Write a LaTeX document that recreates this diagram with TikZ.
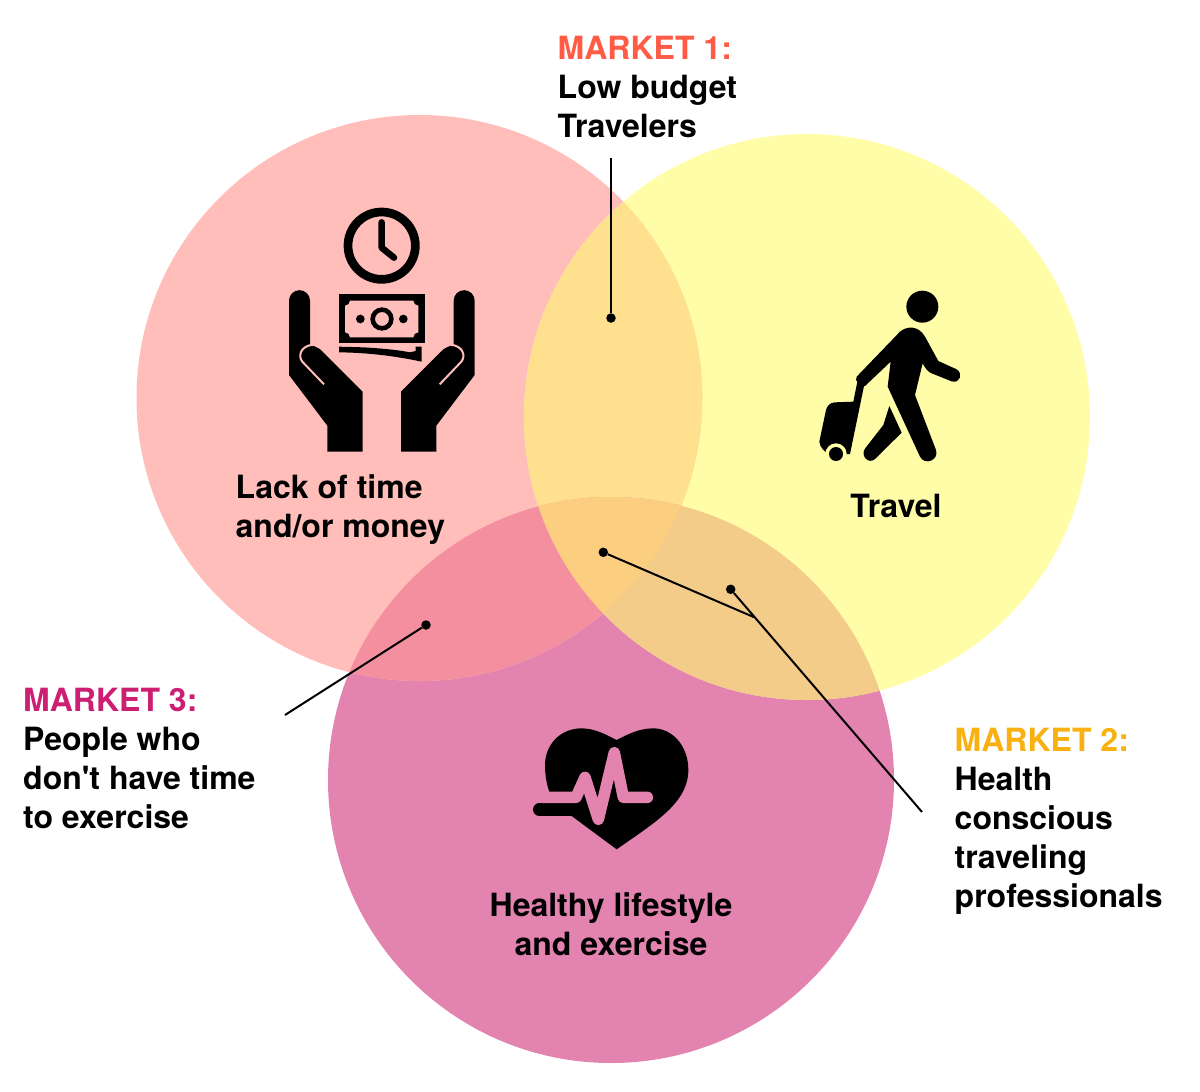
\documentclass[tikz,border=0pt]{standalone}
\usepackage{fontspec}
\setmainfont{TeX Gyre Heros}
\usetikzlibrary{positioning}

\definecolor{redzone}{HTML}{FFBEBA}
\definecolor{yellowzone}{HTML}{FFFDA8}
\definecolor{pinkzone}{HTML}{E383B0}
\definecolor{redyellow}{HTML}{FFE08F}
\definecolor{redpink}{HTML}{F48F9F}
\definecolor{yellowpink}{HTML}{F3CC8A}
\definecolor{allzones}{HTML}{FBCE80}
\definecolor{marketone}{HTML}{FF5B45}
\definecolor{markettwo}{HTML}{F9B111}
\definecolor{marketthree}{HTML}{CC1F72}

\newcommand{\redpath}{(419.5,398) circle (283)}
\newcommand{\yellowpath}{(807,417) circle (283)}
\newcommand{\pinkpath}{(611,780) circle (283)}

\begin{document}
\begin{tikzpicture}[x=1pt, y=-1pt,
    zone/.style={circle, inner sep=0pt, minimum size=566pt},
    dot/.style={circle, fill=black, inner sep=0pt, minimum size=9.5pt},
    leader/.style={draw=black, line width=2pt},
    blurb/.style={font=\fontsize{32}{39}\selectfont\bfseries, inner sep=0pt, align=left, anchor=north west},
    caption/.style={font=\fontsize{32}{39}\selectfont\bfseries, inner sep=0pt, align=center, anchor=north}]
  \useasboundingbox (0,0) rectangle (1200,1092);

  % circles
  \node [zone, fill=pinkzone] (pink) at (611,780) {};
  \node [zone, fill=redzone] (red) at (419.5,398) {};
  \node [zone, fill=yellowzone] (yellow) at (807,417) {};

  % overlaps
  \begin{scope}
    \clip \redpath;
    \fill [redyellow] \yellowpath;
    \fill [redpink] \pinkpath;
  \end{scope}
  \begin{scope}
    \clip \yellowpath;
    \fill [yellowpink] \pinkpath;
    \clip \redpath;
    \fill [allzones] \pinkpath;
  \end{scope}

  % clock and banknote
  \begin{scope}[shift={(270,195)}, scale=1/3]
    \draw [line width=8.7pt] (335,152) circle (101);
    \draw [line width=6.5pt, line cap=round, line join=round] (335,82) -- (335,158) -- (372,188);
    \fill (207,298) rectangle (465,445);
    \fill [redzone] (240,317) -- (430,317) arc (180:90:15) -- (445,412) arc (-90:-180:15)
      -- (240,427) arc (0:-90:15) -- (225,332) arc (90:0:15) -- cycle;
    \draw [line width=4.6pt] (336,372) circle (28);
    \fill (271,372) circle (13) (400,372) circle (13);
    \fill (207,455) -- (280,457) .. controls (330,460) and (380,464) .. (420,472)
      -- (437,468) -- (437,455) -- (455,455) -- (455,500)
      .. controls (380,484) and (300,473) .. (207,472) -- cycle;
  \end{scope}

  % hands
  \foreach \hand in {1,-1} {
    \begin{scope}[shift={(381.83,195)}, xscale=\hand/3, yscale=1/3]
      \fill (-278.5,317) arc (180:360:31.5) -- (-215.5,447) -- (-205.5,452)
        -- (-185.5,462) -- (-57.5,590) -- (-57.5,770) -- (-163.5,770)
        -- (-163.5,692) -- (-278.5,540) -- cycle;
      \draw [redzone, line width=2pt] (-173.5,568) -- (-238.5,500)
        .. controls (-252,484) and (-245,452) .. (-205,449) .. controls (-195,449) and (-187,455) .. (-180,462);
    \end{scope}
  }

  % traveler
  \begin{scope}[shift={(800,280)}, scale=1/3]
    \fill (367,80) circle (48);
    \fill (300,155) .. controls (320,138) and (355,135) .. (375,170) -- (415,243) -- (470,268)
      .. controls (490,280) and (480,312) .. (455,304) -- (395,280) .. controls (385,276) and (375,265) .. (368,250)
      -- (345,345) -- (408,510) .. controls (418,540) and (375,558) .. (360,530)
      -- (263,320) -- (272,245) -- (195,318) .. controls (185,325) and (160,300) .. (170,290) -- cycle;
    \fill (268,378) -- (305,458) -- (225,537) .. controls (205,555) and (178,525) .. (197,503) -- (250,435) -- cycle;
    \fill (172,305) -- (192,318) -- (150,522) -- (90,525) .. controls (75,515) and (60,505) .. (58,485)
      -- (78,390) .. controls (80,380) and (90,367) .. (105,367) -- (160,365) -- cycle;
    \fill [yellowzone] (108,522) circle (32);
    \fill (108,522) circle (21);
  \end{scope}

  % heart
  \begin{scope}[shift={(520,720)}, scale=1/3]
    \fill (290,60) .. controls (260,45) and (225,25) .. (185,25)
      .. controls (120,25) and (75,75) .. (75,135) .. controls (75,165) and (80,195) .. (90,220)
      -- (155,288) -- (290,388) .. controls (400,310) and (505,250) .. (505,150)
      .. controls (505,75) and (455,25) .. (400,25) .. controls (355,25) and (320,45) .. (290,60) -- cycle;
    \draw [line width=12.7pt, line cap=round] (58,269) -- (190,269);
    \draw [pinkzone, line width=11.5pt, line cap=round, line join=round]
      (70,232) -- (168,232) -- (195,172) -- (235,298) -- (283,98) -- (310,232) -- (382,232);
  \end{scope}

  % labels
  \node [blurb] (marketa) at (557.5,36) {\textcolor{marketone}{MARKET 1:}\\Low budget\\Travelers};
  \node [blurb] (marketb) at (954.5,728) {\textcolor{markettwo}{MARKET 2:}\\Health\\conscious\\traveling\\professionals};
  \node [blurb] (marketc) at (23,688) {\textcolor{marketthree}{MARKET 3:}\\People who\\don\textquotesingle t have time\\to exercise};
  \node [blurb] (scarcity) at (235.5,474) {Lack of time\\and/or money};
  \node [caption] (travel) at (896,494) {Travel};
  \node [caption] (health) at (611,892) {Healthy lifestyle\\and exercise};

  % leaders
  \node [dot] (dota) at (611,318) {};
  \node [dot] (dotb) at (603.3,552.3) {};
  \node [dot] (dotc) at (730.7,589.3) {};
  \node [dot] (dotd) at (426,625) {};
  \coordinate (topend) at (611,158);
  \coordinate (fork) at (754.3,617.3);
  \coordinate (rightend) at (922,812);
  \coordinate (leftend) at (285,715);
  \draw [leader] (topend) -- (dota);
  \draw [leader] (dotb) -- (fork);
  \draw [leader] (dotc) -- (rightend);
  \draw [leader] (dotd) -- (leftend);
\end{tikzpicture}
\end{document}
